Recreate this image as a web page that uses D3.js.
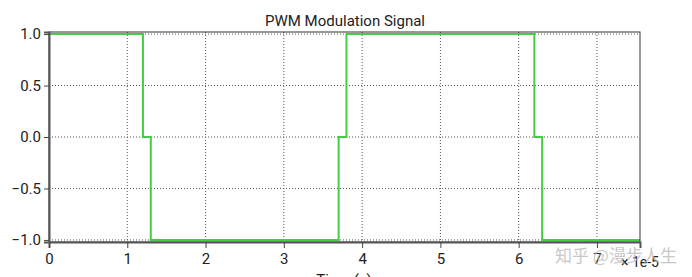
<!DOCTYPE html>
<html>
<head>
<meta charset="utf-8">
<script src="https://d3js.org/d3.v7.min.js"></script>
<style>
body { margin: 0; background: #fff; }
svg text { font-family: Roboto, sans-serif; }
</style>
</head>
<body>
<svg id="chart" width="692" height="277"></svg>
<script>
// PWM signal: switching times (x 1e-5 s) and levels (step-after)
var times = [0, 1.2, 1.3, 3.7, 3.8, 6.2, 6.3, 7.55];
var levels = [1, 0, -1, 0, 1, 0, -1, -1];
var xTicks = [0, 1, 2, 3, 4, 5, 6, 7];
var yTicks = [-1.0, -0.5, 0.0, 0.5, 1.0];

var svg = d3.select('#chart');
var xs = d3.scaleLinear().domain([0, 7.55]).range([49, 640]);
var ys = d3.scaleLinear().domain([-1.02, 1.02]).range([242, 32]);

var data = times.map(function(t, i) { return {t: t, v: levels[i]}; });

// grid
svg.append('g').selectAll('line').data(xTicks.slice(1)).enter().append('line')
  .attr('x1', d => xs(d)).attr('x2', d => xs(d))
  .attr('y1', ys.range()[1]).attr('y2', ys.range()[0])
  .style('stroke', '#555').style('stroke-width', 1).style('stroke-dasharray', '1,2');
svg.append('g').selectAll('line').data(yTicks).enter().append('line')
  .attr('x1', xs.range()[0]).attr('x2', xs.range()[1])
  .attr('y1', d => ys(d)).attr('y2', d => ys(d))
  .style('stroke', '#555').style('stroke-width', 1).style('stroke-dasharray', '1,2');

// signal
var line = d3.line().x(d => xs(d.t)).y(d => ys(d.v)).curve(d3.curveStepAfter);
svg.append('path').datum(data)
  .attr('d', line)
  .style('fill', 'none')
  .style('stroke', '#44cc44')
  .style('stroke-width', 2);

// frame
svg.append('rect')
  .attr('x', xs.range()[0]).attr('y', ys.range()[1])
  .attr('width', xs.range()[1] - xs.range()[0])
  .attr('height', ys.range()[0] - ys.range()[1])
  .style('fill', 'none').style('stroke', '#333').style('stroke-width', 1);

// axes
var xAxis = svg.append('g')
  .attr('transform', 'translate(0,' + ys.range()[0] + ')')
  .call(d3.axisBottom(xs).tickValues(xTicks).tickFormat(d3.format('d')).tickSize(6).tickPadding(5));
var yAxis = svg.append('g')
  .attr('transform', 'translate(' + xs.range()[0] + ',0)')
  .call(d3.axisLeft(ys).tickValues(yTicks).tickFormat(d3.format('.1f')).tickSize(5).tickPadding(3));
[xAxis, yAxis].forEach(function(a) {
  a.select('.domain').style('stroke', '#555').style('stroke-width', 2);
  a.selectAll('.tick line').style('stroke', '#444');
  a.selectAll('.tick text').style('font-size', '15px').style('fill', '#222')
    .style('font-family', 'Roboto, sans-serif');
});

// title and labels
svg.append('text')
  .attr('x', 345).attr('y', 26)
  .attr('text-anchor', 'middle')
  .style('font-size', '15px').style('fill', '#222')
  .text('PWM Modulation Signal');
svg.append('text')
  .attr('x', 344).attr('y', 285)
  .attr('text-anchor', 'middle')
  .style('font-size', '15px').style('fill', '#222')
  .text('Time (s)');
svg.append('text')
  .attr('x', 621).attr('y', 267)
  .style('font-size', '14px').style('fill', '#222')
  .text('× 1e-5');

// watermark
svg.append('text')
  .attr('x', 555).attr('y', 262)
  .style('font-family', '"Noto Sans CJK SC", sans-serif')
  .style('font-size', '17px').style('fill', '#bbb').style('opacity', 0.8)
  .text('知乎 @漫步人生');
</script>
</body>
</html>
